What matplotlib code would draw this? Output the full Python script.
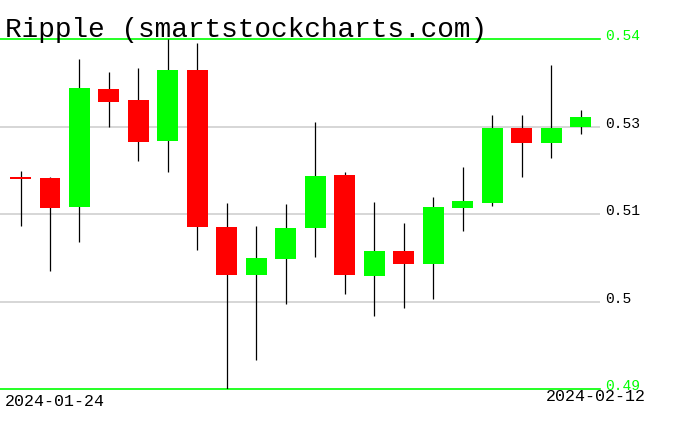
import matplotlib
matplotlib.use("Agg")
import matplotlib.pyplot as plt
import matplotlib.transforms as mtransforms
import pandas as pd

# valores (XRP diário)
datas = pd.date_range("2024-01-24", "2024-02-12", freq="D")
aberturas = [0.5201, 0.5201, 0.5160, 0.5329, 0.5313, 0.5255, 0.5356, 0.5131, 0.5063, 0.5086,
             0.5130, 0.5206, 0.5062, 0.5097, 0.5079, 0.5159, 0.5166, 0.5273, 0.5251, 0.5275]
maximas = [0.5211, 0.5203, 0.5371, 0.5353, 0.5359, 0.5400, 0.5394, 0.5166, 0.5133, 0.5164,
           0.5281, 0.5210, 0.5167, 0.5137, 0.5175, 0.5217, 0.5291, 0.5291, 0.5363, 0.5298]
minimas = [0.5133, 0.5068, 0.5110, 0.5275, 0.5226, 0.5210, 0.5098, 0.4900, 0.4942, 0.5022,
           0.5088, 0.5036, 0.5005, 0.5016, 0.5028, 0.5126, 0.5162, 0.5203, 0.5230, 0.5265]
fechamentos = [0.5200, 0.5159, 0.5330, 0.5310, 0.5253, 0.5356, 0.5132, 0.5063, 0.5087, 0.5130,
               0.5204, 0.5063, 0.5097, 0.5079, 0.5160, 0.5169, 0.5273, 0.5251, 0.5273, 0.5288]

y_min, y_max = 0.49, 0.54
ticks_y = [0.49, 0.5025, 0.515, 0.5275, 0.54]
rotulos_y = ["0.49", "0.5", "0.51", "0.53", "0.54"]

VERDE = "#00ff00"
VERMELHO = "#ff0000"
FONTE = "Liberation Mono"

fig = plt.figure(figsize=(6.76, 4.31), dpi=100)
ax = fig.add_axes([0, 41 / 431, 600 / 676, 350 / 431])

n = len(datas)
x = list(range(n))
for i in x:
    o, h, l, c = aberturas[i], maximas[i], minimas[i], fechamentos[i]
    cor = VERDE if c >= o else VERMELHO
    ax.vlines(i, l, h, color="black", linewidth=0.9, zorder=2)
    base = min(o, c)
    altura = max(abs(c - o), 0.0003)
    ax.bar(i, altura, bottom=base, width=0.71, color=cor, zorder=3, linewidth=0)

# linhas de grade
for v in ticks_y:
    if v in (y_min, y_max):
        ax.axhline(v, color=VERDE, linewidth=1.2, clip_on=False, zorder=1)
    else:
        ax.axhline(v, color="#d0d0d0", linewidth=1.2, zorder=1)

trans = mtransforms.blended_transform_factory(ax.transAxes, ax.transData)
for v, r in zip(ticks_y, rotulos_y):
    cor = VERDE if v in (y_min, y_max) else "black"
    ax.text(1.008, v, r, transform=trans, ha="left", va="baseline",
            fontsize=10.5, color=cor, family=FONTE)

ax.set_xlim(-0.696, 19.66)
ax.set_ylim(y_min, y_max)
ax.axis("off")

fig.text(5 / 676, 1 - 37 / 431, "Ripple (smartstockcharts.com)", ha="left", va="baseline",
         fontsize=20, family=FONTE, color="black")
fig.text(5 / 676, 1 - 406 / 431, datas[0].strftime("%Y-%m-%d"), ha="left", va="baseline",
         fontsize=12, family=FONTE, color="black")
fig.text(646 / 676, 1 - 401 / 431, datas[-1].strftime("%Y-%m-%d"), ha="right", va="baseline",
         fontsize=12, family=FONTE, color="black")

fig.savefig("out.png", dpi=100)
plt.close()
